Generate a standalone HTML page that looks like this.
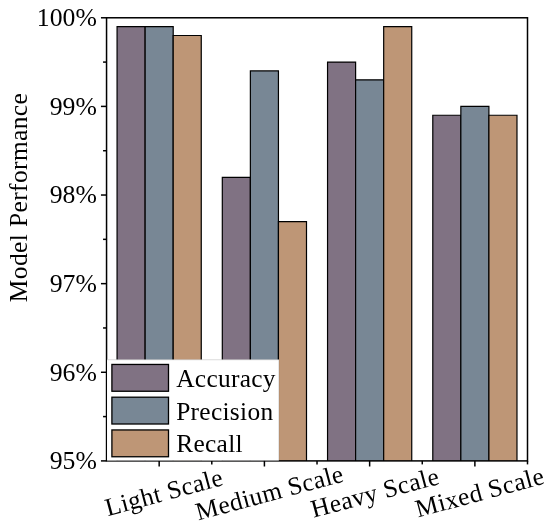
<!DOCTYPE html>
<html><head><meta charset="utf-8"><title>Model Performance</title>
<style>html,body{margin:0;padding:0;background:#fff}svg{display:block}text{font-kerning:none;font-family:"Liberation Serif","Times New Roman",serif;fill:#000}</style></head><body>
<svg width="550" height="527" viewBox="0 0 550 527">
<rect x="0" y="0" width="550" height="527" fill="#fff"/>
<path d="M117.07 460.90V26.64H145.14V460.90" fill="#807283" stroke="#000" stroke-width="1.2" stroke-linejoin="miter"/>
<path d="M145.14 460.90V26.64H173.20V460.90" fill="#788795" stroke="#000" stroke-width="1.2" stroke-linejoin="miter"/>
<path d="M173.20 460.90V35.50H201.26V460.90" fill="#BE9676" stroke="#000" stroke-width="1.2" stroke-linejoin="miter"/>
<path d="M222.31 460.90V177.30H250.37V460.90" fill="#807283" stroke="#000" stroke-width="1.2" stroke-linejoin="miter"/>
<path d="M250.37 460.90V70.95H278.44V460.90" fill="#788795" stroke="#000" stroke-width="1.2" stroke-linejoin="miter"/>
<path d="M278.44 460.90V221.62H306.50V460.90" fill="#BE9676" stroke="#000" stroke-width="1.2" stroke-linejoin="miter"/>
<path d="M327.55 460.90V62.09H355.61V460.90" fill="#807283" stroke="#000" stroke-width="1.2" stroke-linejoin="miter"/>
<path d="M355.61 460.90V79.82H383.68V460.90" fill="#788795" stroke="#000" stroke-width="1.2" stroke-linejoin="miter"/>
<path d="M383.68 460.90V26.64H411.74V460.90" fill="#BE9676" stroke="#000" stroke-width="1.2" stroke-linejoin="miter"/>
<path d="M432.79 460.90V115.27H460.85V460.90" fill="#807283" stroke="#000" stroke-width="1.2" stroke-linejoin="miter"/>
<path d="M460.85 460.90V106.40H488.91V460.90" fill="#788795" stroke="#000" stroke-width="1.2" stroke-linejoin="miter"/>
<path d="M488.91 460.90V115.27H516.98V460.90" fill="#BE9676" stroke="#000" stroke-width="1.2" stroke-linejoin="miter"/>
<rect x="106.55" y="17.78" width="420.95" height="443.12" fill="none" stroke="#000" stroke-width="1.5"/>
<rect x="107.05" y="359.75" width="171.85" height="100.80" fill="#fff"/>
<line x1="107.05" y1="359.75" x2="278.90" y2="359.75" stroke="#c4c4c4" stroke-width="0.6"/>
<rect x="111.9" y="364.45" width="56.6" height="26.8" fill="#807283" stroke="#000" stroke-width="1.3"/>
<text x="176.2" y="386.75" font-size="25.4" letter-spacing="0.3">Accuracy</text>
<rect x="111.9" y="397.20" width="56.6" height="26.8" fill="#788795" stroke="#000" stroke-width="1.3"/>
<text x="176.2" y="419.50" font-size="25.4" letter-spacing="0.3">Precision</text>
<rect x="111.9" y="429.95" width="56.6" height="26.8" fill="#BE9676" stroke="#000" stroke-width="1.3"/>
<text x="176.2" y="452.25" font-size="25.4" letter-spacing="0.3">Recall</text>
<line x1="100.95" y1="460.90" x2="106.55" y2="460.90" stroke="#000" stroke-width="1.5"/>
<text x="96.8" y="469.30" font-size="25.7" text-anchor="end">95%</text>
<line x1="103.05" y1="416.59" x2="106.55" y2="416.59" stroke="#000" stroke-width="1.5"/>
<line x1="100.95" y1="372.28" x2="106.55" y2="372.28" stroke="#000" stroke-width="1.5"/>
<text x="96.8" y="380.68" font-size="25.7" text-anchor="end">96%</text>
<line x1="103.05" y1="327.96" x2="106.55" y2="327.96" stroke="#000" stroke-width="1.5"/>
<line x1="100.95" y1="283.65" x2="106.55" y2="283.65" stroke="#000" stroke-width="1.5"/>
<text x="96.8" y="292.05" font-size="25.7" text-anchor="end">97%</text>
<line x1="103.05" y1="239.34" x2="106.55" y2="239.34" stroke="#000" stroke-width="1.5"/>
<line x1="100.95" y1="195.03" x2="106.55" y2="195.03" stroke="#000" stroke-width="1.5"/>
<text x="96.8" y="203.43" font-size="25.7" text-anchor="end">98%</text>
<line x1="103.05" y1="150.72" x2="106.55" y2="150.72" stroke="#000" stroke-width="1.5"/>
<line x1="100.95" y1="106.40" x2="106.55" y2="106.40" stroke="#000" stroke-width="1.5"/>
<text x="96.8" y="114.80" font-size="25.7" text-anchor="end">99%</text>
<line x1="103.05" y1="62.09" x2="106.55" y2="62.09" stroke="#000" stroke-width="1.5"/>
<line x1="100.95" y1="17.78" x2="106.55" y2="17.78" stroke="#000" stroke-width="1.5"/>
<text x="96.8" y="26.18" font-size="25.7" text-anchor="end">100%</text>
<line x1="159.17" y1="460.90" x2="159.17" y2="466.50" stroke="#000" stroke-width="1.5"/>
<line x1="211.79" y1="460.90" x2="211.79" y2="464.40" stroke="#000" stroke-width="1.5"/>
<line x1="264.41" y1="460.90" x2="264.41" y2="466.50" stroke="#000" stroke-width="1.5"/>
<line x1="317.02" y1="460.90" x2="317.02" y2="464.40" stroke="#000" stroke-width="1.5"/>
<line x1="369.64" y1="460.90" x2="369.64" y2="466.50" stroke="#000" stroke-width="1.5"/>
<line x1="422.26" y1="460.90" x2="422.26" y2="464.40" stroke="#000" stroke-width="1.5"/>
<line x1="474.88" y1="460.90" x2="474.88" y2="466.50" stroke="#000" stroke-width="1.5"/>
<line x1="527.50" y1="460.90" x2="527.50" y2="464.40" stroke="#000" stroke-width="1.5"/>
<text transform="translate(166.17,500.50) rotate(-15)" font-size="25.4" letter-spacing="0.42" text-anchor="middle">Light Scale</text>
<text transform="translate(271.71,500.80) rotate(-15)" font-size="25.4" letter-spacing="0.38" text-anchor="middle">Medium Scale</text>
<text transform="translate(377.14,500.70) rotate(-15)" font-size="25.4" letter-spacing="0.36" text-anchor="middle">Heavy Scale</text>
<text transform="translate(481.88,500.40) rotate(-15)" font-size="25.4" letter-spacing="0.43" text-anchor="middle">Mixed Scale</text>
<text transform="translate(26.6,197.5) rotate(-90)" font-size="25.4" letter-spacing="0.42" text-anchor="middle">Model Performance</text>
</svg></body></html>
